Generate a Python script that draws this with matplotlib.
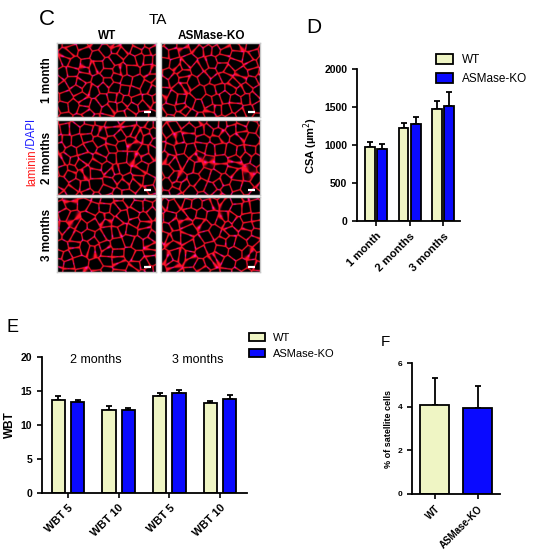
import numpy as np
import matplotlib
matplotlib.use('Agg')
import matplotlib.pyplot as plt
from matplotlib.patches import Patch

plt.rcParams['font.family'] = ['Liberation Sans', 'DejaVu Sans']

# panel D: fibre cross sectional area
csa_months = ['1 month', '2 months', '3 months']
csa_wt = [969, 1219, 1474]
csa_wt_err = [75, 70, 105]
csa_ko = [952, 1272, 1509]
csa_ko_err = [66, 96, 184]

# panel E: wire/beam test
wbt_labels = ['WBT 5', 'WBT 10', 'WBT 5', 'WBT 10']
wbt_groups = ['2 months', '3 months']
wbt_wt = [13.73, 12.16, 14.2, 13.24]
wbt_wt_err = [0.58, 0.59, 0.46, 0.36]
wbt_ko = [13.43, 12.16, 14.7, 13.87]
wbt_ko_err = [0.30, 0.29, 0.50, 0.53]

# panel F: satellite cells
sat_groups = ['WT', 'ASMase-KO']
sat_vals = [4.09, 3.94]
sat_err = [1.22, 1.02]

# panel C labels
img_cols = ['WT', 'ASMase-KO']
img_rows = ['1 month', '2 months', '3 months']

WT_COL = '#eff5c4'
KO_COL = '#0a0aff'
W, H = 533, 550

def fx(x):
    return x / W

def fy(y):
    return 1 - y / H

def box(x0, y0, x1, y1):
    return [fx(x0), fy(y1), fx(x1) - fx(x0), fy(y0) - fy(y1)]

def style(ax):
    for s in ['top', 'right']:
        ax.spines[s].set_visible(False)
    for s in ['left', 'bottom']:
        ax.spines[s].set_linewidth(1.3)
    ax.tick_params(width=1.2, length=3.5, direction='out')
    for t in ax.get_yticklabels() + ax.get_xticklabels():
        t.set_fontweight('bold')

def upper_err(ax, x, y, e):
    ax.errorbar(x, y, yerr=[np.zeros(len(e)), e], fmt='none', ecolor='k',
                elinewidth=1.3, capsize=2.5, capthick=1.3, zorder=1)

# deterministic texture standing in for the laminin/DAPI micrographs
def fiber_image(k, h=150, w=200, s=21):
    yy, xx = np.mgrid[0:h, 0:w].astype(float)
    I, J = np.meshgrid(np.arange(-1, w // s + 2), np.arange(-1, int(h / (s * 0.9)) + 2))
    jx = (np.sin(I * 12.9898 + J * 78.233 + k * 37.719) * 43758.5453) % 1
    jy = (np.sin(I * 39.3468 + J * 11.135 + k * 83.155) * 24634.6345) % 1
    sx = (I + 0.5 * (J % 2) + (jx - 0.5) * 0.9) * s
    sy = (J + (jy - 0.5) * 0.9) * s * 0.9
    d = np.sqrt((xx[..., None] - sx.ravel()) ** 2 + (yy[..., None] - sy.ravel()) ** 2)
    d12 = np.partition(d, 1, axis=2)
    edge = np.exp(-((d12[..., 1] - d12[..., 0]) / 2.2) ** 2)
    blue_w = 0.18 + 0.55 * ((np.sin(xx * 0.35 + k) * np.cos(yy * 0.4 - k)) > 0.6)
    rgb = np.stack([np.clip(edge * 1.4, 0, 1), edge * 0.08, np.clip(edge * blue_w, 0, 1)], axis=2)
    return rgb

fig = plt.figure(figsize=(W / 100, H / 100), dpi=100)

# ---- panel C ----
fig.text(fx(39), fy(25), 'C', fontsize=16, ha='left', va='baseline')
fig.text(fx(158), fy(24), 'TA', fontsize=11, ha='center', va='baseline')
col_x = [(57, 156), (161, 260)]
row_y = [(43, 117), (120, 195), (197, 272)]
for c, (x0, x1) in enumerate(col_x):
    fig.text(fx((x0 + x1) / 2 + 1), fy(39), img_cols[c], fontsize=8.5,
             fontweight='bold', ha='center', va='baseline')
    for r, (y0, y1) in enumerate(row_y):
        iax = fig.add_axes(box(x0, y0, x1, y1))
        iax.imshow(fiber_image(c * 3 + r + 1), aspect='auto', interpolation='bilinear')
        iax.set_xticks([])
        iax.set_yticks([])
        for s in iax.spines.values():
            s.set_color('#c8c8c8')
            s.set_linewidth(1.0)
        iax.plot([0.88, 0.95], [0.07, 0.07], color='white', lw=1.6,
                 transform=iax.transAxes, solid_capstyle='butt')
for r, (y0, y1) in enumerate(row_y):
    fig.text(fx(47), fy((y0 + y1) / 2), img_rows[r], fontsize=8.5, fontweight='bold',
             rotation=90, ha='center', va='center')
fig.text(fx(32), fy(149), 'laminin', color='#ff1a1a', fontsize=8.3,
         rotation=90, ha='center', va='top')
fig.text(fx(32), fy(149), '/DAPI', color='#1a1aff', fontsize=8.3,
         rotation=90, ha='center', va='bottom')

# ---- panel D ----
fig.text(fx(306), fy(33), 'D', fontsize=15, ha='left', va='baseline')
axd = fig.add_axes(box(357, 69, 460, 221))
xd = np.arange(len(csa_months))
bw = 0.29
axd.bar(xd - 0.18, csa_wt, bw, color=WT_COL, edgecolor='k', linewidth=1.3, zorder=2)
axd.bar(xd + 0.18, csa_ko, bw, color=KO_COL, edgecolor='k', linewidth=1.3, zorder=2)
upper_err(axd, xd - 0.18, csa_wt, csa_wt_err)
upper_err(axd, xd + 0.18, csa_ko, csa_ko_err)
axd.set_xlim(-0.57, 2.5)
axd.set_ylim(0, 2000)
axd.set_yticks([0, 500, 1000, 1500, 2000])
axd.set_xticks(xd)
axd.set_xticklabels(csa_months, rotation=45, ha='right', rotation_mode='anchor', fontsize=8)
axd.tick_params(axis='y', labelsize=7.5)
axd.set_ylabel('CSA (µm$^2$)', fontsize=8, fontweight='bold', labelpad=3)
style(axd)
axd.legend(handles=[Patch(facecolor=WT_COL, edgecolor='k', linewidth=1.3, label='WT'),
                    Patch(facecolor=KO_COL, edgecolor='k', linewidth=1.3, label='ASMase-KO')],
           loc='upper left', bbox_to_anchor=(fx(436), fy(54)), bbox_transform=fig.transFigure,
           frameon=False, fontsize=8.5, borderpad=0, borderaxespad=0,
           handlelength=1.45, handleheight=0.85, handletextpad=0.75, labelspacing=0.6)

# ---- panel E ----
fig.text(fx(7), fy(332), 'E', fontsize=13, ha='left', va='baseline')
axe = fig.add_axes(box(42, 357, 247, 493))
xe = np.arange(len(wbt_labels))
bw = 0.26
axe.bar(xe - 0.19, wbt_wt, bw, color=WT_COL, edgecolor='k', linewidth=1.3, zorder=2)
axe.bar(xe + 0.19, wbt_ko, bw, color=KO_COL, edgecolor='k', linewidth=1.3, zorder=2)
upper_err(axe, xe - 0.19, wbt_wt, wbt_wt_err)
upper_err(axe, xe + 0.19, wbt_ko, wbt_ko_err)
axe.set_xlim(-0.51, 3.53)
axe.set_ylim(0, 20)
axe.set_yticks([0, 5, 10, 15, 20])
axe.set_xticks(xe)
axe.set_xticklabels(wbt_labels, rotation=45, ha='right', rotation_mode='anchor', fontsize=8)
axe.tick_params(axis='y', labelsize=7.5)
axe.set_ylabel('WBT', fontsize=8.5, fontweight='bold')
axe.yaxis.set_label_coords(-0.125, 0.5)
for g, name in enumerate(wbt_groups):
    axe.text(0.55 + 2 * g, 19.6, name, fontsize=9, ha='center', va='center')
style(axe)
axe.legend(handles=[Patch(facecolor=WT_COL, edgecolor='k', linewidth=1.3, label='WT'),
                    Patch(facecolor=KO_COL, edgecolor='k', linewidth=1.3, label='ASMase-KO')],
           loc='upper left', bbox_to_anchor=(fx(249), fy(333)), bbox_transform=fig.transFigure,
           frameon=False, fontsize=8, borderpad=0, borderaxespad=0,
           handlelength=1.45, handleheight=0.75, handletextpad=0.75, labelspacing=0.55)

# ---- panel F ----
fig.text(fx(381), fy(346), 'F', fontsize=11, ha='left', va='baseline')
axf = fig.add_axes(box(412, 363, 500, 494))
xf = np.arange(len(sat_groups))
axf.bar(xf, sat_vals, 0.67, color=[WT_COL, KO_COL], edgecolor='k', linewidth=1.3, zorder=2)
upper_err(axf, xf, sat_vals, sat_err)
axf.set_xlim(-0.53, 1.52)
axf.set_ylim(0, 6)
axf.set_yticks([0, 2, 4, 6])
axf.set_xticks(xf)
axf.set_xticklabels(sat_groups, rotation=45, ha='right', rotation_mode='anchor', fontsize=7)
axf.tick_params(axis='y', labelsize=6)
axf.set_ylabel('% of satellite cells', fontsize=6.5, fontweight='bold', labelpad=3)
style(axf)

fig.savefig('out.png', dpi=100)
